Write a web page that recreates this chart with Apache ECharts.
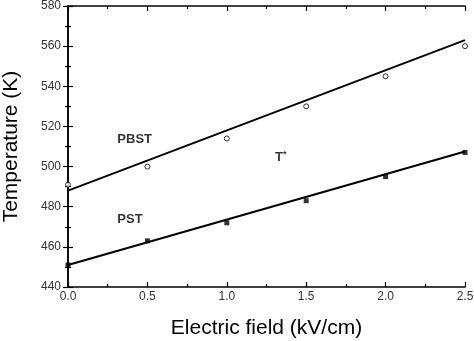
<!DOCTYPE html>
<html><head><meta charset="utf-8">
<script src="https://cdn.jsdelivr.net/npm/echarts@6/dist/echarts.min.js"></script>
<style>html,body{margin:0;padding:0;background:#fff}#c{width:474px;height:341px}</style>
</head><body><div id="c"></div>
<script>
const fieldValues = [0.0, 0.5, 1.0, 1.5, 2.0, 2.5];
const pbstPoints = [491, 500, 514, 530, 545, 560];
const pstPoints = [451, 463, 472, 483, 495, 507];
const fitX = [0.0, 2.5];
const pbstFit = [488, 563];
const pstFit = [451, 507.5];
const textLabels = [
  {text: 'PBST', x: 0.42, y: 513.3},
  {text: 'T*', x: 1.34, y: 504.4},
  {text: 'PST', x: 0.39, y: 473.5}
];

const chart = echarts.init(document.getElementById('c'), null, {renderer: 'canvas'});
const font = 'Liberation Sans, Arial, sans-serif';
const pair = (xs, ys) => xs.map((x, i) => [x, ys[i]]);

const common = {
  min: 0, max: 2.5, interval: 0.5
};
const axisLine = {show: true, lineStyle: {color: '#000', width: 1.5}};
chart.setOption({
  animation: false,
  grid: {left: 68, right: 9, top: 6, bottom: 54, containLabel: false, outerBoundsMode: 'none'},
  xAxis: [
    Object.assign({
      type: 'value', position: 'bottom',
      axisLine: axisLine,
      axisTick: {inside: true, length: 5, lineStyle: {color: '#000', width: 1.2}},
      minorTick: {show: true, splitNumber: 2, length: 3, lineStyle: {color: '#000', width: 1.2}},
      splitLine: {show: false},
      axisLabel: {color: '#333', fontFamily: font, fontSize: 12, margin: 4,
        formatter: v => v.toFixed(1)},
      name: 'Electric field (kV/cm)', nameLocation: 'middle', nameGap: 31,
      nameTextStyle: {color: '#000', fontFamily: font, fontSize: 21}
    }, common),
    Object.assign({
      type: 'value', position: 'top',
      axisLine: axisLine,
      axisTick: {inside: true, length: 5, lineStyle: {color: '#000', width: 1.2}},
      minorTick: {show: true, splitNumber: 2, length: 3, lineStyle: {color: '#000', width: 1.2}},
      splitLine: {show: false},
      axisLabel: {show: false}
    }, common)
  ],
  yAxis: [
    {
      type: 'value', position: 'left', min: 440, max: 580, interval: 20,
      axisLine: axisLine,
      axisTick: {inside: true, length: 5, lineStyle: {color: '#000', width: 1.2}},
      minorTick: {show: true, splitNumber: 2, length: 3, lineStyle: {color: '#000', width: 1.2}},
      splitLine: {show: false},
      axisLabel: {color: '#333', fontFamily: font, fontSize: 12, margin: 7},
      name: 'Temperature (K)', nameLocation: 'middle', nameGap: 46, nameRotate: 90,
      nameTextStyle: {color: '#000', fontFamily: font, fontSize: 21}
    },
    {
      type: 'value', position: 'right', min: 440, max: 580, interval: 20,
      axisLine: axisLine,
      axisTick: {inside: true, length: 5, lineStyle: {color: '#000', width: 1.2}},
      minorTick: {show: true, splitNumber: 2, length: 3, lineStyle: {color: '#000', width: 1.2}},
      splitLine: {show: false},
      axisLabel: {show: false}
    }
  ],
  series: [
    {type: 'line', data: pair(fitX, pbstFit), symbol: 'none', lineStyle: {color: '#000', width: 2}, z: 2},
    {type: 'line', data: pair(fitX, pstFit), symbol: 'none', lineStyle: {color: '#000', width: 2}, z: 2},
    {type: 'scatter', data: pair(fieldValues, pbstPoints), symbol: 'circle', symbolSize: 5,
      itemStyle: {color: '#fff', borderColor: '#000', borderWidth: 1}, z: 3},
    {type: 'scatter', data: pair(fieldValues, pstPoints), symbol: 'rect', symbolSize: 5,
      itemStyle: {color: '#000'}, z: 3},
    {type: 'scatter', data: textLabels.map(l => ({value: [l.x, l.y], name: l.text})),
      symbolSize: 0, silent: true,
      label: {show: true, position: 'inside',
        formatter: p => p.name.endsWith('*') ? '{m|' + p.name.slice(0, -1) + '}{s|*}' : '{m|' + p.name + '}',
        rich: {
          m: {color: '#000', fontFamily: font, fontSize: 13, fontWeight: 'bold'},
          s: {color: '#000', fontFamily: font, fontSize: 9, fontWeight: 'bold', verticalAlign: 'top', padding: [0, 0, 6, 0]}
        }}}
  ]
});
</script></body></html>
